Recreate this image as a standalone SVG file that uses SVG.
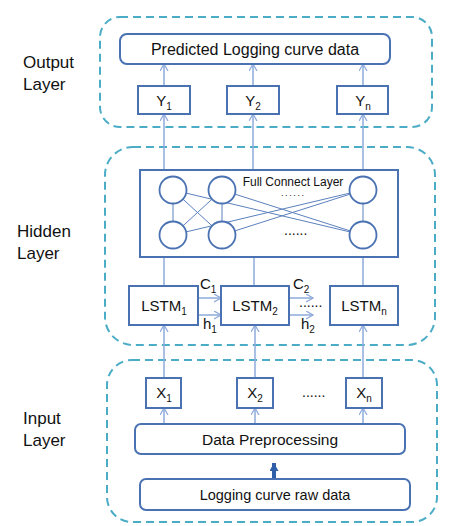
<svg xmlns="http://www.w3.org/2000/svg" width="474" height="526" viewBox="0 0 474 526">
<style>
.dash{fill:none;stroke:#4bacc6;stroke-width:2;stroke-dasharray:8 5}
.box{fill:#fff;stroke:#4a72b2;stroke-width:2}
.circ{fill:#fff;stroke:#4a72b2;stroke-width:1.8}
.fc{stroke:#5b80bd;stroke-width:1}
.arr{stroke:#8eaadb;stroke-width:1.5;fill:none}
.t{font-family:"Liberation Sans",Arial,sans-serif;fill:#111;font-size:15px}
.lbl{font-family:"Liberation Sans",Arial,sans-serif;fill:#111;font-size:17px}
.sub{font-size:10px}
</style>
<defs>
<marker id="ah" markerUnits="userSpaceOnUse" markerWidth="10" markerHeight="10" refX="7" refY="4" orient="auto">
<path d="M0,0 L7,4 L0,8" fill="none" stroke="#8eaadb" stroke-width="1.3"/>
</marker>
<marker id="thick" markerUnits="userSpaceOnUse" markerWidth="12" markerHeight="12" refX="8" refY="4.5" orient="auto">
<path d="M0,0 L8,4.5 L0,9 Z" fill="#2f5fa8"/>
</marker>
</defs>

<g id="layer-labels">
<text class="lbl" x="23" y="68">Output</text>
<text class="lbl" x="23" y="90">Layer</text>
<text class="lbl" x="17" y="237">Hidden</text>
<text class="lbl" x="17" y="259">Layer</text>
<text class="lbl" x="23" y="424">Input</text>
<text class="lbl" x="23" y="446">Layer</text>
</g>

<g id="output-layer"><rect class="dash" x="100" y="17" width="332" height="110" rx="20"/></g>
<g id="hidden-layer"><rect class="dash" x="105" y="147" width="330" height="198" rx="28"/></g>
<g id="input-layer"><rect class="dash" x="107" y="360" width="330" height="162" rx="25"/></g>

<g id="connectors">
<line class="arr" x1="164" y1="86" x2="164" y2="64" marker-end="url(#ah)"/>
<line class="arr" x1="253" y1="86" x2="253" y2="64" marker-end="url(#ah)"/>
<line class="arr" x1="363" y1="86" x2="363" y2="64" marker-end="url(#ah)"/>
<line class="arr" x1="164" y1="170" x2="164" y2="114" marker-end="url(#ah)"/>
<line class="arr" x1="253" y1="170" x2="253" y2="114" marker-end="url(#ah)"/>
<line class="arr" x1="363" y1="170" x2="363" y2="114" marker-end="url(#ah)"/>
<line class="arr" x1="164" y1="286" x2="164" y2="257"/>
<line class="arr" x1="254" y1="286" x2="254" y2="257"/>
<line class="arr" x1="363" y1="286" x2="363" y2="257"/>
<line class="arr" x1="164" y1="378" x2="164" y2="325" marker-end="url(#ah)"/>
<line class="arr" x1="255" y1="378" x2="255" y2="325" marker-end="url(#ah)"/>
<line class="arr" x1="363" y1="378" x2="363" y2="325" marker-end="url(#ah)"/>
<line class="arr" x1="164" y1="424" x2="164" y2="408" marker-end="url(#ah)"/>
<line class="arr" x1="255" y1="424" x2="255" y2="408" marker-end="url(#ah)"/>
<line class="arr" x1="363" y1="424" x2="363" y2="408" marker-end="url(#ah)"/>
<line class="arr" x1="198" y1="298" x2="221" y2="298" marker-end="url(#ah)"/>
<line class="arr" x1="198" y1="315" x2="221" y2="315" marker-end="url(#ah)"/>
<line class="arr" x1="289" y1="298" x2="313" y2="298" marker-end="url(#ah)"/>
<line class="arr" x1="289" y1="315" x2="313" y2="315" marker-end="url(#ah)"/>
<line x1="274" y1="479" x2="274" y2="463" stroke="#2f5fa8" stroke-width="4" marker-end="url(#thick)"/>
<text class="t" x="200" y="289">C<tspan class="sub" dy="4">1</tspan></text>
<text class="t" x="203" y="329">h<tspan class="sub" dy="4">1</tspan></text>
<text class="t" x="293" y="289">C<tspan class="sub" dy="4">2</tspan></text>
<text class="t" x="301" y="329">h<tspan class="sub" dy="4">2</tspan></text>
<text class="t" x="299" y="307" style="font-size:14px">......</text>
</g>

<g id="predicted">
<rect class="box" x="120" y="34" width="270" height="30" rx="7"/>
<text class="t" x="255" y="55" text-anchor="middle" style="font-size:16px">Predicted Logging curve data</text>
</g>
<g id="y1"><rect class="box" x="138" y="86" width="52" height="28"/><text class="t" x="164" y="106" text-anchor="middle">Y<tspan class="sub" dy="4">1</tspan></text></g>
<g id="y2"><rect class="box" x="227" y="86" width="52" height="28"/><text class="t" x="253" y="106" text-anchor="middle">Y<tspan class="sub" dy="4">2</tspan></text></g>
<g id="yn"><rect class="box" x="337" y="86" width="51" height="28"/><text class="t" x="363" y="106" text-anchor="middle">Y<tspan class="sub" dy="4">n</tspan></text></g>

<g id="full-connect">
<rect class="box" x="140" y="170" width="258" height="87"/>
<line class="fc" x1="173" y1="190" x2="173" y2="235"/>
<line class="fc" x1="173" y1="190" x2="222" y2="235"/>
<line class="fc" x1="173" y1="190" x2="363" y2="235"/>
<line class="fc" x1="222" y1="190" x2="173" y2="235"/>
<line class="fc" x1="222" y1="190" x2="222" y2="235"/>
<line class="fc" x1="222" y1="190" x2="363" y2="235"/>
<line class="fc" x1="363" y1="190" x2="173" y2="235"/>
<line class="fc" x1="363" y1="190" x2="222" y2="235"/>
<line class="fc" x1="363" y1="190" x2="363" y2="235"/>
<circle class="circ" cx="173" cy="190" r="13.5"/>
<circle class="circ" cx="222" cy="190" r="13.5"/>
<circle class="circ" cx="363" cy="190" r="13.5"/>
<circle class="circ" cx="173" cy="235" r="13.5"/>
<circle class="circ" cx="222" cy="235" r="13.5"/>
<circle class="circ" cx="363" cy="235" r="13.5"/>
<text class="t" x="293" y="186" text-anchor="middle" style="font-size:12px">Full Connect Layer</text>
<text class="t" x="281" y="196" style="font-size:9px;letter-spacing:1.6px">......</text>
<text class="t" x="284" y="235" style="font-size:14px">......</text>
</g>

<g id="lstm1"><rect class="box" x="129" y="286" width="69" height="39"/><text class="t" x="164" y="311" text-anchor="middle">LSTM<tspan class="sub" dy="4">1</tspan></text></g>
<g id="lstm2"><rect class="box" x="221" y="286" width="68" height="39"/><text class="t" x="255" y="311" text-anchor="middle">LSTM<tspan class="sub" dy="4">2</tspan></text></g>
<g id="lstmn"><rect class="box" x="330" y="286" width="68" height="39"/><text class="t" x="364" y="311" text-anchor="middle">LSTM<tspan class="sub" dy="4">n</tspan></text></g>

<g id="x1"><rect class="box" x="146" y="378" width="35" height="30"/><text class="t" x="164" y="398" text-anchor="middle">X<tspan class="sub" dy="4">1</tspan></text></g>
<g id="x2"><rect class="box" x="237" y="378" width="36" height="30"/><text class="t" x="255" y="398" text-anchor="middle">X<tspan class="sub" dy="4">2</tspan></text></g>
<g id="xn"><rect class="box" x="346" y="378" width="36" height="30"/><text class="t" x="364" y="398" text-anchor="middle">X<tspan class="sub" dy="4">n</tspan></text></g>
<text class="t" x="302" y="397" style="font-size:14px">......</text>

<g id="preprocessing">
<rect class="box" x="135" y="424" width="270" height="30" rx="6"/>
<text class="t" x="270" y="445" text-anchor="middle" style="font-size:15.5px">Data Preprocessing</text>
</g>
<g id="raw-data">
<rect class="box" x="140" y="479" width="270" height="31" rx="6"/>
<text class="t" x="275" y="500" text-anchor="middle" style="font-size:14.5px">Logging curve raw data</text>
</g>
</svg>
